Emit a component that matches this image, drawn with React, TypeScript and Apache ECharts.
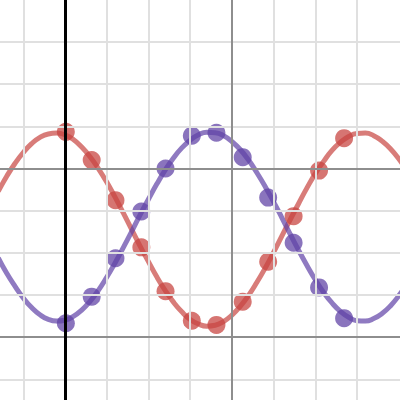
import React, { useEffect, useRef } from "react";
import * as echarts from "echarts";

// grid line positions (in graph units)
const minorX = [-1, 1, 2, 3, 5, 6, 7];
const majorX = [4];
const axisX = [0];
const minorY = [3, 5, 6, 7, 9, 10, 11];
const majorY = [4, 8];

// fitted curves (x step 0.2)
const curveX = [
  -1.6, -1.4, -1.2, -1.0, -0.8, -0.6, -0.4, -0.2, 0.0, 0.2,
  0.4, 0.6, 0.8, 1.0, 1.2, 1.4, 1.6, 1.8, 2.0, 2.2,
  2.4, 2.6, 2.8, 3.0, 3.2, 3.4, 3.6, 3.8, 4.0, 4.2,
  4.4, 4.6, 4.8, 5.0, 5.2, 5.4, 5.6, 5.8, 6.0, 6.2,
  6.4, 6.6, 6.8, 7.0, 7.2, 7.4, 7.6, 7.8, 8.0, 8.2,
];
const redCurve = [
  7.46, 7.81, 8.12, 8.38, 8.59, 8.74, 8.82, 8.84, 8.80, 8.69,
  8.51, 8.28, 8.00, 7.68, 7.32, 6.94, 6.55, 6.16, 5.79, 5.43,
  5.11, 4.83, 4.60, 4.42, 4.31, 4.26, 4.28, 4.37, 4.52, 4.73,
  4.99, 5.30, 5.64, 6.01, 6.40, 6.79, 7.17, 7.54, 7.88, 8.17,
  8.43, 8.62, 8.76, 8.83, 8.84, 8.78, 8.65, 8.47, 8.23, 7.94,
];
const purpleCurve = [
  5.88, 5.52, 5.21, 4.93, 4.70, 4.53, 4.42, 4.38, 4.40, 4.49,
  4.64, 4.85, 5.11, 5.42, 5.76, 6.13, 6.51, 6.90, 7.27, 7.63,
  7.96, 8.25, 8.49, 8.67, 8.80, 8.86, 8.85, 8.78, 8.64, 8.45,
  8.20, 7.90, 7.57, 7.21, 6.83, 6.44, 6.06, 5.70, 5.36, 5.06,
  4.81, 4.61, 4.47, 4.39, 4.38, 4.44, 4.56, 4.74, 4.98, 5.27,
];

// data points
const dotX = [0.02, 0.64, 1.21, 1.83, 2.41, 3.04, 3.63, 4.26, 4.87, 5.48, 6.09, 6.69];
const redDots = [8.87, 8.20, 7.25, 6.13, 5.09, 4.39, 4.29, 4.84, 5.79, 6.87, 7.95, 8.72];
const purpleDots = [4.33, 4.96, 5.87, 6.98, 8.00, 8.78, 8.85, 8.27, 7.31, 6.24, 5.18, 4.45];

const RED_LINE = "rgba(199,68,64,0.7)";
const PURPLE_LINE = "rgba(96,66,166,0.7)";
const RED_DOT = "rgba(199,68,64,0.92)";
const PURPLE_DOT = "rgba(96,66,166,0.92)";

export default function App() {
  const ref = useRef<HTMLDivElement>(null);

  useEffect(() => {
    if (!ref.current) return;
    const chart = echarts.init(ref.current, undefined, { renderer: "svg" });

    const zip = (xs: number[], ys: number[]) => xs.map((x, i) => [x, ys[i]]);

    const lineData: any[] = [];
    minorX.forEach((v) => lineData.push({ xAxis: v, lineStyle: { color: "#e0e0e0", width: 2, type: "solid" } }));
    minorY.forEach((v) => lineData.push({ yAxis: v, lineStyle: { color: "#e0e0e0", width: 2, type: "solid" } }));
    majorX.forEach((v) => lineData.push({ xAxis: v, lineStyle: { color: "#8e8e8e", width: 2, type: "solid" } }));
    majorY.forEach((v) => lineData.push({ yAxis: v, lineStyle: { color: "#8e8e8e", width: 2, type: "solid" } }));
    axisX.forEach((v) => lineData.push({ xAxis: v, lineStyle: { color: "#000000", width: 3, type: "solid" } }));

    const hiddenAxis = {
      type: "value" as const,
      axisLine: { show: false },
      axisTick: { show: false },
      axisLabel: { show: false },
      splitLine: { show: false },
    };

    chart.setOption({
      animation: false,
      backgroundColor: "#ffffff",
      grid: { left: 0, right: 0, top: 0, bottom: 0, containLabel: false },
      xAxis: { ...hiddenAxis, min: -1.558, max: 8.03 },
      yAxis: { ...hiddenAxis, min: 2.508, max: 11.998 },
      series: [
        {
          type: "line",
          data: [],
          z: 1,
          silent: true,
          markLine: {
            silent: true,
            symbol: ["none", "none"],
            label: { show: false },
            emphasis: { disabled: true },
            data: lineData,
          },
        },
        {
          type: "line",
          data: zip(curveX, redCurve),
          smooth: 0.5,
          showSymbol: false,
          symbol: "none",
          z: 2,
          silent: true,
          lineStyle: { color: RED_LINE, width: 5 },
        },
        {
          type: "line",
          data: zip(curveX, purpleCurve),
          smooth: 0.5,
          showSymbol: false,
          symbol: "none",
          z: 2,
          silent: true,
          lineStyle: { color: PURPLE_LINE, width: 5 },
        },
        {
          type: "scatter",
          data: zip(dotX, redDots),
          symbol: "circle",
          symbolSize: 18,
          z: 3,
          silent: true,
          itemStyle: { color: RED_DOT },
        },
        {
          type: "scatter",
          data: zip(dotX, purpleDots),
          symbol: "circle",
          symbolSize: 18,
          z: 3,
          silent: true,
          itemStyle: { color: PURPLE_DOT },
        },
      ],
    });

    return () => chart.dispose();
  }, []);

  return (
    <div
      ref={ref}
      style={{ position: "fixed", left: 0, top: 0, width: 400, height: 400, background: "#fff" }}
    />
  );
}
